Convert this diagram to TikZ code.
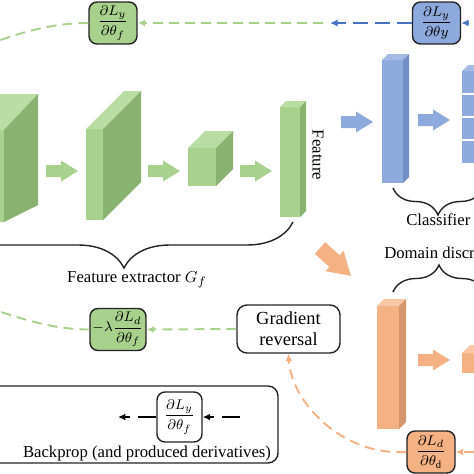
\documentclass[tikz,border=0pt]{standalone}
\usepackage{amsmath}
\usepackage{fontspec}
\setmainfont{Liberation Serif}
\usepackage{tikz}
\usetikzlibrary{arrows.meta,decorations.pathreplacing}
\definecolor{GreenFace}{RGB}{169,209,142}
\definecolor{GreenTop}{RGB}{186,221,163}
\definecolor{GreenSide}{RGB}{137,178,113}
\definecolor{BlueFace}{RGB}{142,169,219}
\definecolor{BlueTop}{RGB}{163,186,228}
\definecolor{BlueSide}{RGB}{113,142,198}
\definecolor{OrangeFace}{RGB}{244,177,131}
\definecolor{OrangeTop}{RGB}{249,199,165}
\definecolor{OrangeSide}{RGB}{214,150,108}
\definecolor{BlueLine}{RGB}{68,114,196}
\definecolor{DarkLine}{RGB}{35,35,35}
% box in 3d: front top-left x, y, width, height, depth, colour prefix
\newcommand{\cuboid}[6]{%
  \fill[#6Face] (#1,#2) rectangle ++(#3,#4);
  \fill[#6Top] (#1,#2) -- ++(#5,-#5) -- ++(#3,0) -- ++(-#5,#5) -- cycle;
  \fill[#6Side] ({#1+#3},#2) -- ++(#5,-#5) -- ++(0,#4) -- ++(-#5,#5) -- cycle;}
% thick flow arrow: [scale] colour, tail point, angle
\newcommand{\flowarrow}[4][1]{%
  \fill[#2,shift={(#3)},rotate=#4,scale=#1] (0,-6) -- (15,-6) -- (15,-10.5) -- (32,0)
    -- (15,10.5) -- (15,6) -- (0,6) -- cycle;}

\begin{document}
\begin{tikzpicture}[x=0.02cm,y=-0.02cm,
    deriv/.style={draw=DarkLine, line width=0.8pt, rounded corners=1.6mm,
      minimum width=9.6mm, minimum height=8.4mm, inner sep=0.5pt, font=\footnotesize},
    lbl/.style={font=\fontsize{9.5}{11}\selectfont, inner sep=0pt},
    tip/.style={-{Latex[length=1.5mm,width=1.4mm]}},
    gdash/.style={GreenFace, line width=1.1pt, dash pattern=on 2mm off 1.2mm},
    bdash/.style={BlueLine, line width=1.3pt, dash pattern=on 3mm off 1.4mm},
    odash/.style={OrangeFace, line width=1.1pt, dash pattern=on 2mm off 1.2mm},
    kdash/.style={black, line width=1.2pt, dash pattern=on 3.6mm off 1.6mm},
    brace/.style={decorate, line width=0.8pt, DarkLine}]
  \useasboundingbox (0,0) rectangle (474,474);
  \clip (0,0) rectangle (474,474);

  % feature extractor
  \fill[GreenFace] (-40,130) rectangle (4,222);
  \fill[GreenTop] (-40,130) -- (4,130) -- (38,94) -- (-6,94) -- cycle;
  \fill[GreenSide] (4,130) -- (38,94) -- (38,205) -- (4,222) -- cycle;
  \flowarrow{GreenFace}{46,171}{0}
  \cuboid{86}{129}{17}{91}{38}{Green}
  \flowarrow{GreenFace}{148,171}{0}
  \cuboid{188}{148}{28}{38}{17}{Green}
  \flowarrow{GreenFace}{240,171}{0}
  \cuboid{280}{107}{20}{110}{6}{Green}
  \node[lbl, rotate=-90] (feat) at (318,155) {Feature};
  \draw[brace, decoration={brace,amplitude=9.2mm}] (293,222) -- (-45,222);
  \node[lbl] (fext) at (137,280) {Feature extractor $G_f$};

  % classifier
  \flowarrow{BlueFace}{341,122}{0}
  \cuboid{382}{60}{21}{123}{6}{Blue}
  \flowarrow{BlueFace}{418,120}{0}
  \cuboid{462}{71}{40}{92}{6}{Blue}
  \foreach \y in {94,117,140}
    \draw[white, line width=0.6pt] (462,\y) -- (502,\y);
  \draw[brace, decoration={brace,amplitude=5.4mm}] (483,188) -- (393,188);
  \node[lbl, anchor=west] (cls) at (406,222) {Classifier $G_y$};

  % domain discriminator
  \flowarrow[1.3]{OrangeFace}{320,248}{-42}
  \node[lbl, anchor=west] (dom) at (384,254) {Domain discriminator $G_d$};
  \draw[brace, decoration={brace,amplitude=5.4mm}] (393,292) -- (485,292);
  \cuboid{377}{306}{22}{123}{7}{Orange}
  \flowarrow{OrangeFace}{418,360}{0}
  \cuboid{462}{353}{40}{20}{8}{Orange}

  % derivatives
  \node[deriv, fill=GreenFace] (dlyf) at (113,23) {$\displaystyle\frac{\partial L_y}{\partial\theta_f}$};
  \node[deriv, fill=BlueFace] (dlyy) at (436.5,23) {$\displaystyle\frac{\partial L_y}{\partial\theta y}$};
  \node[deriv, fill=GreenFace, minimum width=11.2mm] (dldf) at (118,329.5) {$-\lambda\displaystyle\frac{\partial L_d}{\partial\theta_f}$};
  \node[deriv, fill=OrangeFace] (dldd) at (431,452) {$\displaystyle\frac{\partial L_d}{\partial\theta_{\mathrm{d}}}$};
  \node[draw=DarkLine, line width=0.8pt, rounded corners=2mm, minimum width=20.6mm,
    minimum height=9.6mm, align=center, inner sep=1pt,
    font=\fontsize{10.5}{12}\selectfont] (grad) at (288.5,329) {Gradient\\reversal};

  \coordinate (bin) at (490,23);
  \coordinate (bmid) at (330,23);
  \coordinate (gmid) at (323,23);
  \coordinate (gout) at (-5,42);
  \coordinate (gin) at (-5,310);
  \coordinate (oin) at (490,452);
  \draw[bdash, tip] (bin) -- (dlyy.east);
  \draw[bdash, tip] (dlyy.west) -- (bmid);
  \draw[gdash, tip] (gmid) -- (dlyf.east);
  \draw[gdash] (dlyf.west) .. controls (55,23) and (25,31) .. (gout);
  \draw[gdash, tip] (grad.west) -- (dldf.east);
  \draw[gdash] (dldf.west) .. controls (55,329.5) and (25,320) .. (gin);
  \draw[odash, tip] (oin) -- (dldd.east);
  \draw[odash, tip] (dldd.west) .. controls (340,456) and (291,400) .. (grad.south);

  % legend
  \draw[DarkLine, line width=0.8pt, rounded corners=2mm] (-20,386) rectangle (278,463);
  \node[deriv, fill=white, minimum width=9mm, minimum height=10mm] (leg) at (179.5,417)
    {$\displaystyle\frac{\partial L_y}{\partial\theta_f}$};
  \coordinate (lin) at (240,417);
  \coordinate (lout) at (118,417);
  \draw[kdash, tip] (lin) -- (leg.east);
  \draw[kdash, tip] (leg.west) -- (lout);
  \node[lbl] (bp) at (147,453) {Backprop (and produced derivatives)};
\end{tikzpicture}
\end{document}
